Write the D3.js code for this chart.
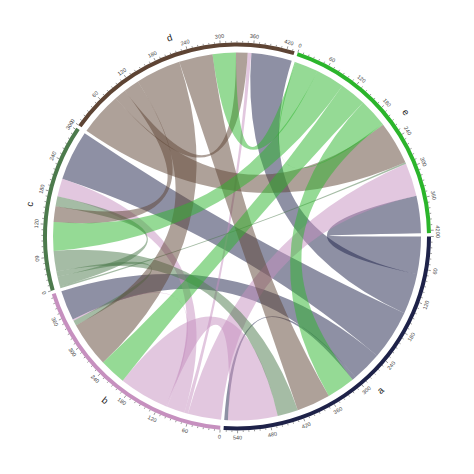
<!DOCTYPE html>
<html>
<head>
<meta charset="utf-8">
<script src="https://cdn.jsdelivr.net/npm/d3@7"></script>
<style>
html,body{margin:0;padding:0;background:#fff;}
svg{display:block;}
text{font-family:"Liberation Sans",Arial,sans-serif;}
</style>
</head>
<body>
<svg id="chart" width="474" height="474"></svg>
<script>
// sectors in drawing order (clockwise from 3 o'clock)
const sectors = ["a", "b", "c", "d", "e"];
const sectorColors = ["#1e2249", "#c690bf", "#4c7a4c", "#5e4434", "#2bb52b"];
// flow matrix: rows = from, columns = to (a, b, c, d, e)
const rowA = [7, 57, 95, 77, 71];
const rowB = [94, 3, 34, 7, 63];
const rowC = [39, 10, 19, 0, 3];
const rowD = [64, 86, 30, 22, 82];
const rowE = [54, 50, 54, 44, 2];
const matrix = [rowA, rowB, rowC, rowD, rowE];
const majorTick = 60;
const minorTick = 10;

const W = 474, H = 474;
const cx = 237, cy = 236.5;
const gapDeg = 1;
const startDeg = 90;
const rLink = 184, rTrackIn = 190, rTrackOut = 194, rTickLabel = 201, rName = 210;

const n = sectors.length;
const sizes = sectors.map((s, i) => d3.sum(matrix[i]) + d3.sum(matrix.map(r => r[i])));
const total = d3.sum(sizes);
const k = (360 - n * gapDeg) / total;
const rad = d => d * Math.PI / 180;

// sector start angles (degrees)
const starts = [];
let acc = startDeg;
sizes.forEach((s, i) => { starts.push(acc); acc += s * k + gapDeg; });

// unit position -> angle scale per sector
const scales = sectors.map((s, i) => d3.scaleLinear().domain([0, sizes[i]]).range([starts[i], starts[i] + sizes[i] * k]));

// layout links: in each sector outgoing (to e..a) then incoming (from e..a)
const outPos = {}, inPos = {};
sectors.forEach((s, i) => {
  let p = 0;
  for (let j = n - 1; j >= 0; j--) { const v = matrix[i][j]; outPos[i + "-" + j] = [p, p + v]; p += v; }
  for (let j = n - 1; j >= 0; j--) { const v = matrix[j][i]; inPos[j + "-" + i] = [p, p + v]; p += v; }
});

const links = [];
for (let i = 0; i < n; i++) for (let j = 0; j < n; j++) {
  const v = matrix[i][j];
  if (v <= 0) continue;
  const o = outPos[i + "-" + j], t = inPos[i + "-" + j];
  links.push({
    from: i,
    source: {startAngle: rad(scales[i](o[0])), endAngle: rad(scales[i](o[1]))},
    target: {startAngle: rad(scales[j](t[0])), endAngle: rad(scales[j](t[1]))}
  });
}

const svg = d3.select("#chart");
const g = svg.append("g").attr("transform", `translate(${cx},${cy})`);

const ribbon = d3.ribbon().radius(rLink);
g.append("g").selectAll("path").data(links).join("path")
  .attr("d", ribbon)
  .attr("fill", d => sectorColors[d.from])
  .attr("fill-opacity", 0.5)
  .attr("stroke", "none");

// tracks
const arc = d3.arc().innerRadius(rTrackIn).outerRadius(rTrackOut);
g.append("g").selectAll("path").data(sectors).join("path")
  .attr("d", (s, i) => arc({startAngle: rad(starts[i]), endAngle: rad(starts[i] + sizes[i] * k)}))
  .attr("fill", (s, i) => sectorColors[i]);

// ticks and labels
const tickG = g.append("g");
sectors.forEach((s, i) => {
  const ticks = d3.range(0, sizes[i] + 0.001, minorTick);
  ticks.forEach(t => {
    const a = rad(scales[i](t));
    const major = t % majorTick === 0;
    const r2 = rTrackOut + (major ? 2.8 : 1.6);
    tickG.append("line")
      .attr("x1", rTrackOut * Math.sin(a)).attr("y1", -rTrackOut * Math.cos(a))
      .attr("x2", r2 * Math.sin(a)).attr("y2", -r2 * Math.cos(a))
      .attr("stroke", "#333").attr("stroke-width", 0.5);
    if (major) {
      const deg = scales[i](t);
      const x = rTickLabel * Math.sin(a), y = -rTickLabel * Math.cos(a);
      const rot = Math.cos(a) >= 0 ? deg : deg + 180;
      tickG.append("text")
        .attr("transform", `translate(${x},${y}) rotate(${rot})`)
        .attr("text-anchor", "middle").attr("dominant-baseline", "central")
        .attr("font-size", 5.5).attr("fill", "#444")
        .text(t);
    }
  });
  // sector name
  const midDeg = starts[i] + sizes[i] * k / 2;
  const ma = rad(midDeg);
  const rot = Math.cos(ma) >= 0 ? midDeg : midDeg + 180;
  g.append("text")
    .attr("transform", `translate(${rName * Math.sin(ma)},${-rName * Math.cos(ma)}) rotate(${rot})`)
    .attr("text-anchor", "middle").attr("dominant-baseline", "central")
    .attr("font-size", 9.5).attr("fill", "#222")
    .text(s);
});
</script>
</body>
</html>
